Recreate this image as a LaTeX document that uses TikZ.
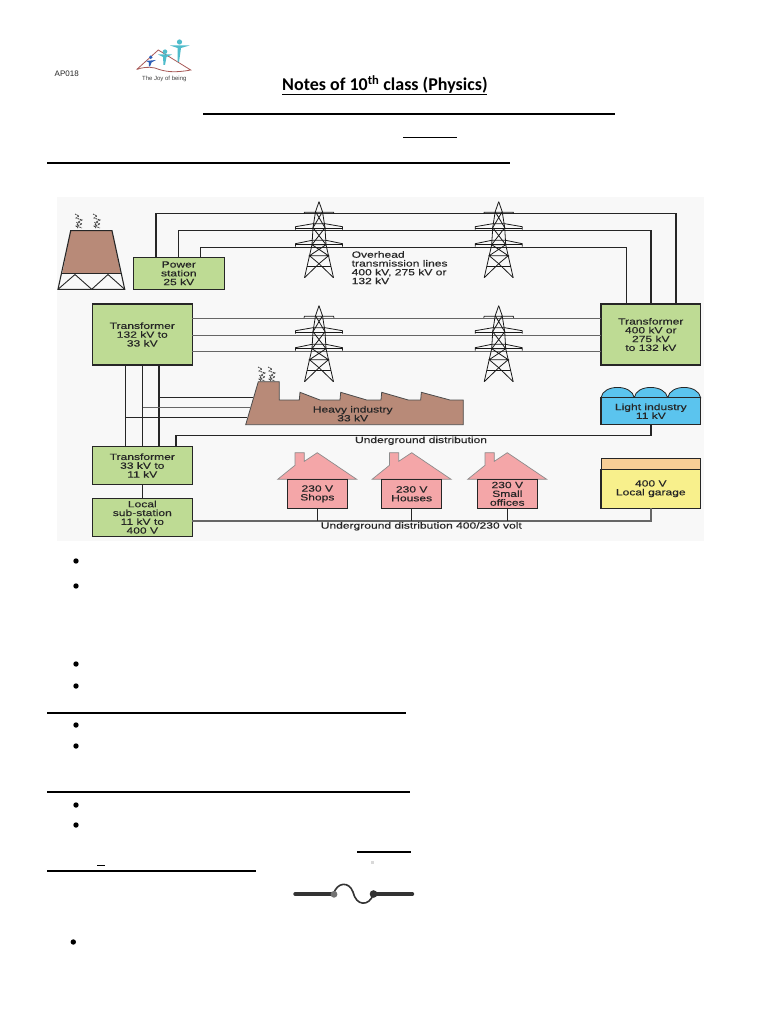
\documentclass[tikz,border=0pt]{standalone}
\usepackage{fontspec}
\setmainfont{Liberation Sans}
\newfontfamily\lab[FakeStretch=1.34,FakeBold=0.25]{Liberation Sans}
\newfontfamily\titlefont{Carlito}
\definecolor{bgc}{HTML}{F8F8F8}
\definecolor{greenb}{HTML}{BEDB94}
\definecolor{brownb}{HTML}{B88A78}
\definecolor{pinkb}{HTML}{F4A6A8}
\definecolor{blueb}{HTML}{5BC4EE}
\definecolor{yellowb}{HTML}{F8F08C}
\definecolor{orangeb}{HTML}{F8CE96}
\definecolor{logored}{HTML}{A85A58}
\definecolor{logocyan}{HTML}{4FBCCB}
\definecolor{logoblue}{HTML}{2E5FB8}
\tikzset{
  labeltext/.style={font=\lab\fontsize{9}{8.8}\selectfont,align=center,text=black!85,inner sep=0pt},
  boxg/.style={draw=black!85,line width=1.1pt,fill=#1,labeltext,outer sep=0pt},
  wire/.style={draw=black!85,line width=1.1pt},
  wiregrey/.style={draw=black!60,line width=1.2pt},
  rulebar/.style={draw=black,line width=2pt},
  bulletdot/.style={circle,fill=black,minimum size=5.4pt,inner sep=0pt},
  pylon/.pic={
    \begin{scope}[line width=0.8pt,black!90]
      \draw (0,0) -- (-3.5,10) -- (-6,26) -- (-7,43) -- (-14.5,76);
      \draw (0,0) -- (3.5,10) -- (6,26) -- (7,43) -- (14.5,76);
      \draw (-15,12) -- (-14.5,10.5) -- (14.5,10.5) -- (15,12);
      \draw (-23.5,28) -- (-23.5,25) -- (-6,22) -- (6,22) -- (23.5,25) -- (23.5,28);
      \draw (-23.5,26.5) -- (23.5,26.5);
      \draw (-23.5,45) -- (-23.5,42) -- (-6.5,38.5) -- (6.5,38.5) -- (23.5,42) -- (23.5,45);
      \draw (-23.5,43) -- (23.5,43);
      \draw (-3.5,10) -- (6,26) -- (-7,43) -- (7,43) -- (-6,26) -- (3.5,10);
      \draw (-7,43) -- (9.5,54) -- (-9.5,54) -- (7,43);
      \draw (-9.5,54) -- (0,62) -- (9.5,54);
      \draw (-14.5,76) -- (0,62) -- (14.5,76);
      \draw (-12,65) -- (12,65);
    \end{scope}
  },
  smoke/.pic={
    \draw[line width=0.8pt,black!75,dash pattern=on 1.6pt off 0.8pt] (-4,0) -- (0,2) -- (-3,4) -- (3,6) -- (-1,8) -- (3,10) -- (-2,12) -- (3,14);
    \draw[line width=0.8pt,black!75,dash pattern=on 1.6pt off 0.8pt] (-2.5,8) -- (-1,10) -- (-3,12) -- (-1,14);
  }
}
\begin{document}
\begin{tikzpicture}[x=1pt,y=-1pt]
\useasboundingbox (0,0) rectangle (768,1024);
\fill[white] (0,0) rectangle (768,1024);

% header
\node[anchor=base west,inner sep=0pt,font=\fontsize{8}{9}\selectfont,text=black!85] (code) at (54.5,77) {AP018};
\draw[logored,line width=0.8pt] (136.7,69.5) -- (158.3,50) -- (190.7,70) .. controls (175,73) and (165,72) .. (155,68) .. controls (148,66.5) and (142,67.5) .. (136.7,69.5);
\fill[logocyan] (179.5,42) circle (2.6);
\fill[logocyan] (170,45.5) -- (189.5,45.5) -- (181,48) -- (179,62) -- (177.5,62) -- (177.5,48) -- cycle;
\fill[logocyan] (165,51.7) circle (2.3);
\fill[logocyan] (158,54.5) -- (172,54.5) -- (166.5,57) -- (165,65) -- (163.5,65) -- (163,57) -- cycle;
\fill[logoblue] (150.7,57.3) circle (1.9);
\fill[logoblue] (146,61) -- (156,60) -- (151.5,62.5) -- (150,66.5) -- (148.8,66.5) -- (149,62.5) -- cycle;
\node[inner sep=0pt,font=\fontsize{6}{8}\selectfont,text=black!75] (joy) at (164.3,78.7) {The Joy of being};
\node[anchor=base west,inner sep=0pt,font=\titlefont\bfseries\fontsize{18}{20}\selectfont] (title) at (282,91) {Notes of 10\textsuperscript{th} class (Physics)};
\draw[line width=1.1pt] (282,94.3) -- (487,94.3);

% rules
\draw[rulebar] (203,114.5) -- (615,114.5);
\draw[line width=1.5pt] (403,137.7) -- (457,137.7);
\draw[rulebar] (47,163) -- (510,163);

% diagram background
\fill[bgc] (57,197) rectangle (704,541);

% named nodes
\node[boxg=greenb,minimum width=91pt,minimum height=32pt] (ps) at (178.8,273.3) {Power\\station\\25 kV};
\node[boxg=greenb,minimum width=100pt,minimum height=61pt] (trL) at (142.3,334.5) {Transformer\\132 kV to\\33 kV};
\node[boxg=greenb,minimum width=99.7pt,minimum height=61pt] (trR) at (650.8,334.5) {Transformer\\400 kV or\\275 kV\\to 132 kV};
\node[boxg=greenb,minimum width=100pt,minimum height=37.6pt] (tr33) at (142.3,465.5) {Transformer\\33 kV to\\11 kV};
\node[boxg=greenb,minimum width=100pt,minimum height=37.7pt] (sub) at (142.3,517.2) {Local\\sub-station\\11 kV to\\400 V};
\node[labeltext,align=left,anchor=north west] (over) at (351.5,251) {Overhead\\transmission lines\\400 kV, 275 kV or\\132 kV};

% coordinates of wire bends
\coordinate (a1) at (156,213.7);   \coordinate (a2) at (676,213.7);
\coordinate (b1) at (178.7,230.7); \coordinate (b2) at (651,230.7);
\coordinate (c1) at (200.7,247.7); \coordinate (c2) at (626.3,247.7);
\coordinate (h1) at (0,318.3); \coordinate (h2) at (0,335.3); \coordinate (h3) at (0,351.7);
\coordinate (v1) at (125.7,0); \coordinate (v2) at (142.7,0); \coordinate (v3) at (159,0);
\coordinate (f1) at (253,397.3); \coordinate (f2) at (250,407.3); \coordinate (f3) at (247,417.3);
\coordinate (u1) at (176,435.3); \coordinate (u2) at (651,435.3);
\coordinate (g1) at (651,521);

% overhead wires
\draw[wire,line width=1.3pt] (ps.north -| a1) -- (a1) -- (a2) -- (trR.north -| a2);
\draw[wire] (ps.north -| b1) -- (b1) -- (b2) -- (trR.north -| b2);
\draw[wire] (ps.north -| c1) -- (c1) -- (c2) -- (trR.north -| c2);
\draw[wiregrey] (trL.east |- h1) -- (trR.west |- h1);
\draw[wiregrey] (trL.east |- h2) -- (trR.west |- h2);
\draw[wiregrey] (trL.east |- h3) -- (trR.west |- h3);

% vertical wires
\draw[wire] (trL.south -| v1) -- (tr33.north -| v1);
\draw[wire] (trL.south -| v2) -- (tr33.north -| v2);
\draw[wire] (trL.south -| v3) -- (tr33.north -| v3);
\draw[wire] (v3 |- f1) -- (f1);
\draw[wiregrey] (v2 |- f2) -- (f2);
\draw[wire] (v1 |- f3) -- (f3);
\draw[wire] (tr33.south -| v2) -- (sub.north -| v2);

% pylons
\pic at (319,201.7) {pylon};
\pic at (498.7,201.7) {pylon};
\pic at (319,305.7) {pylon};
\pic at (498.7,305.7) {pylon};

% cooling tower
\fill[brownb] (70.7,230.7) -- (112,230.7) -- (120.7,273.7) -- (62.3,273.7) -- cycle;
\draw[black!85,line width=1.1pt] (70.7,230.7) -- (112,230.7) -- (124.7,289.3) -- (58,289.3) -- cycle;
\draw[black!85,line width=0.9pt] (62.3,273.7) -- (120.7,273.7);
\draw[black!85,line width=0.9pt] (58,289.3) -- (75,274.5) -- (91.7,289.3) -- (108,274.5) -- (124.7,289.3);
\pic at (79,214) {smoke};
\pic at (97,214) {smoke};

% factory
\draw[fill=brownb,draw=black!70,line width=0.8pt] (245.7,424.7) -- (258.3,381.7) -- (279.3,381.7) -- (279.3,400) -- (299.3,400) -- (300,392.3) -- (320,400) -- (340,400) -- (340.7,392.3) -- (366.7,400) -- (381,400) -- (381.7,392.3) -- (408.3,400) -- (420.7,400) -- (421.3,392.3) -- (450,400) -- (463.3,400) -- (463.3,424.7) -- cycle;
\node[labeltext] (heavy) at (352.7,413.7) {Heavy industry\\33 kV};
\pic at (262,367) {smoke};
\pic at (272,367) {smoke};

% light industry
\draw[fill=blueb,draw=black!85,line width=0.8pt] (601,397.7) .. controls (603,384) and (632,384) .. (634.3,397.7) .. controls (636,384) and (665,384) .. (667.7,397.7) .. controls (670,384) and (698,384) .. (700.7,397.7) -- cycle;
\node[boxg=blueb,minimum width=99.7pt,minimum height=27pt] (light) at (650.8,411.2) {Light industry\\11 kV};

% underground distribution
\draw[wire] (tr33.north -| u1) -- (u1) -- (u2) -- (light.south -| u2);
\node[labeltext] (ug) at (421,440.7) {Underground distribution};
\node[labeltext] (ugv) at (421.3,526.3) {Underground distribution 400/230 volt};

% garage
\node[boxg=yellowb,minimum width=99.7pt,minimum height=39.3pt] (garage) at (650.8,488.7) {400 V\\Local garage};
\node[draw=black!85,line width=0.8pt,fill=orangeb,minimum width=99.7pt,minimum height=10.7pt,inner sep=0pt,anchor=south,outer sep=0pt] (stripe) at (garage.north) {};

% low-voltage wire
\draw[wiregrey,line width=1.4pt] (sub.east |- g1) -- (g1) -- (garage.south -| g1);

% houses
\foreach \hx/\hname/\htext in {317.3/shops/{230 V\\Shops},411.7/houses/{230 V\\Houses},507.3/offices/{230 V\\Small\\offices}}{
  \draw[fill=pinkb,draw=black!45,line width=0.7pt] (\hx-39.6,479.3) -- ++(17.3,-14) -- ++(0,-12.6) -- ++(9.3,0) -- ++(0,8.6) -- (\hx,452.7) -- (\hx+39.4,479.3) -- cycle;
  \node[boxg=pinkb,minimum width=60pt,minimum height=29pt] (\hname) at (\hx,493.8) {\htext};
  \draw[wire] (\hname.south) -- (\hname.south |- g1);
}

% bullets
\foreach \bn/\bx/\by in {1/76/561,2/76/586,3/76/664,4/76/686,5/76/725,6/76/746,7/76/805,8/76/825,9/73.3/942}
  \node[bulletdot] (bul\bn) at (\bx,\by) {};

% lower rules
\draw[rulebar] (47,713) -- (406,713);
\draw[rulebar] (47,791.5) -- (410,791.5);
\draw[rulebar,line width=1.6pt] (357,851.7) -- (411,851.7);
\draw[line width=1.1pt] (47,871) -- (256,871);
\draw[line width=1.1pt] (97,865.3) -- (105,865.3);

% fuse symbol
\fill[black!15] (370.7,860.7) rectangle (374,864);
\draw[black!80,line width=3.4pt,line cap=round] (295,894) -- (333.5,894);
\draw[black!80,line width=3.4pt,line cap=round] (373.5,894) -- (412.5,894);
\draw[black!80,line width=1.6pt] (333.5,894) .. controls (337,882) and (349,881) .. (353,892) .. controls (356,906) and (369,907) .. (373.5,894);
\fill[black!55] (334,894.3) circle (3.4);
\fill[black!80] (373.5,894) circle (3.8);
\end{tikzpicture}
\end{document}
